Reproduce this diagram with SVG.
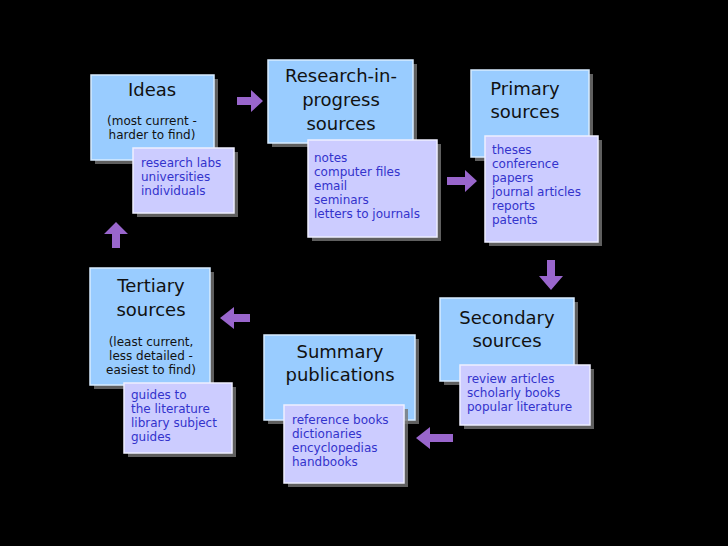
<svg xmlns="http://www.w3.org/2000/svg" width="728" height="546" viewBox="0 0 728 546">
<style>
.b{fill:#99ccff;stroke:#d8ecff;stroke-width:1.5}
.s{fill:#ccccff;stroke:#eeeeff;stroke-width:1.5}
.sh{fill:#777;opacity:0.8}
.t{font-family:"DejaVu Sans",Verdana,sans-serif;font-size:18px;fill:#111;text-anchor:middle}
.m{font-family:"DejaVu Sans",Verdana,sans-serif;font-size:12px;fill:#111;text-anchor:middle}
.l{font-family:"DejaVu Sans",Verdana,sans-serif;font-size:12px;fill:#3333cc}
.a{fill:#9966cc}
</style>
<rect width="728" height="546" fill="#000"/>
<g id="ideas">
<rect class="sh" x="95" y="79" width="123" height="85"/><rect class="b" x="91" y="75" width="123" height="85"/>
<text class="t" x="152" y="96">Ideas</text>
<text class="m" x="152" y="125">(most current -</text><text class="m" x="152" y="139">harder to find)</text>
<rect class="sh" x="137" y="152" width="101" height="65"/><rect class="s" x="133" y="148" width="101" height="65"/>
<text class="l" x="141" y="167">research labs</text><text class="l" x="141" y="181">universities</text><text class="l" x="141" y="195">individuals</text>
</g>
<g id="research">
<rect class="sh" x="272" y="64" width="145" height="83"/><rect class="b" x="268" y="60" width="145" height="83"/>
<text class="t" x="341" y="82">Research-in-</text><text class="t" x="341" y="106">progress</text><text class="t" x="341" y="130">sources</text>
<rect class="sh" x="312" y="144" width="129" height="97"/><rect class="s" x="308" y="140" width="129" height="97"/>
<text class="l" x="314" y="162">notes</text><text class="l" x="314" y="176">computer files</text><text class="l" x="314" y="190">email</text><text class="l" x="314" y="204">seminars</text><text class="l" x="314" y="218">letters to journals</text>
</g>
<g id="primary">
<rect class="sh" x="475" y="74" width="118" height="87"/><rect class="b" x="471" y="70" width="118" height="87"/>
<text class="t" x="525" y="95">Primary</text><text class="t" x="525" y="118">sources</text>
<rect class="sh" x="489" y="140" width="113" height="106"/><rect class="s" x="485" y="136" width="113" height="106"/>
<text class="l" x="492" y="154">theses</text><text class="l" x="492" y="168">conference</text><text class="l" x="492" y="182"> papers</text><text class="l" x="492" y="196">journal articles</text><text class="l" x="492" y="210">reports</text><text class="l" x="492" y="224">patents</text>
</g>
<g id="secondary">
<rect class="sh" x="444" y="302" width="134" height="83"/><rect class="b" x="440" y="298" width="134" height="83"/>
<text class="t" x="507" y="324">Secondary</text><text class="t" x="507" y="347">sources</text>
<rect class="sh" x="464" y="369" width="130" height="60"/><rect class="s" x="460" y="365" width="130" height="60"/>
<text class="l" x="467" y="383">review articles</text><text class="l" x="467" y="397">scholarly books</text><text class="l" x="467" y="411">popular literature</text>
</g>
<g id="summary">
<rect class="sh" x="268" y="339" width="151" height="85"/><rect class="b" x="264" y="335" width="151" height="85"/>
<text class="t" x="340" y="358">Summary</text><text class="t" x="340" y="381">publications</text>
<rect class="sh" x="288" y="409" width="120" height="78"/><rect class="s" x="284" y="405" width="120" height="78"/>
<text class="l" x="292" y="424">reference books</text><text class="l" x="292" y="438">dictionaries</text><text class="l" x="292" y="452">encyclopedias</text><text class="l" x="292" y="466">handbooks</text>
</g>
<g id="tertiary">
<rect class="sh" x="94" y="272" width="120" height="117"/><rect class="b" x="90" y="268" width="120" height="117"/>
<text class="t" x="151" y="292">Tertiary</text><text class="t" x="151" y="316">sources</text>
<text class="m" x="151" y="346">(least current,</text><text class="m" x="151" y="360">less detailed -</text><text class="m" x="151" y="374">easiest to find)</text>
<rect class="sh" x="128" y="387" width="108" height="70"/><rect class="s" x="124" y="383" width="108" height="70"/>
<text class="l" x="131" y="399">guides to</text><text class="l" x="131" y="413"> the literature</text><text class="l" x="131" y="427">library subject</text><text class="l" x="131" y="441"> guides</text>
</g>
<g id="connectors">
<polygon class="a" points="237,97 251,97 251,90 263,101 251,112 251,105 237,105"/>
<polygon class="a" points="447,177 465,177 465,170 477,181 465,192 465,185 447,185"/>
<polygon class="a" points="547,260 555,260 555,276 563,276 551,290 539,276 547,276"/>
<polygon class="a" points="453,434 430,434 430,427 416,438 430,449 430,442 453,442"/>
<polygon class="a" points="250,314 234,314 234,307 220,318 234,329 234,322 250,322"/>
<polygon class="a" points="112,248 120,248 120,234 128,234 116,222 104,234 112,234"/>
</g>
</svg>
